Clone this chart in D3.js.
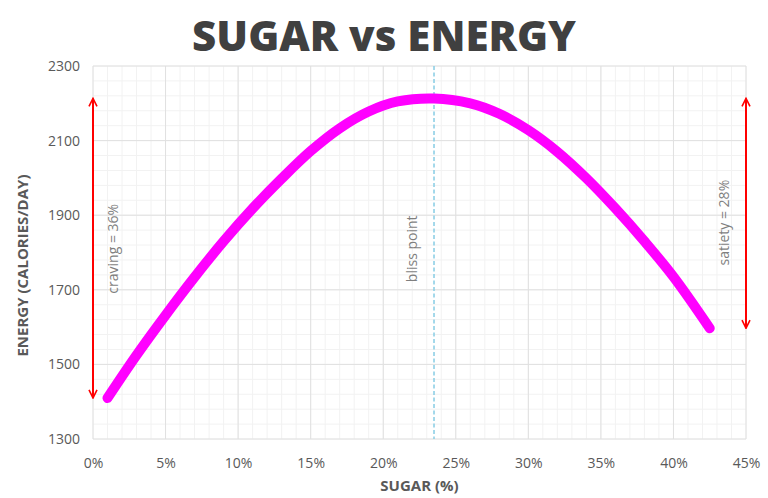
<!DOCTYPE html>
<html>
<head>
<meta charset="utf-8">
<script src="https://cdn.jsdelivr.net/npm/d3@7"></script>
<style>
  body { margin: 0; background: #fff; }
  text { font-family: "Open Sans", "DejaVu Sans", sans-serif; }
</style>
</head>
<body>
<div id="chart"></div>
<script>
// data
var sugar  = [1, 3, 5, 7, 9, 11, 13, 15, 17, 19, 21, 23.5, 26, 28, 30, 32, 34, 36, 38, 40, 42.5];
var energy = [1410, 1525, 1632, 1734, 1830, 1918, 1998, 2072, 2133, 2178, 2205, 2213, 2200, 2172, 2128, 2070, 1999, 1918, 1830, 1735, 1597];
var xTicks = [0, 5, 10, 15, 20, 25, 30, 35, 40, 45];
var yTicks = [1300, 1500, 1700, 1900, 2100, 2300];
var blissPoint = 23.5;
var craving = { label: "craving = 36%", x: 0, from: 2213, to: 1410, labelX: 1.35, labelY: 1810 };
var satiety = { label: "satiety = 28%", x: 45, from: 2213, to: 1597, labelX: 43.5, labelY: 1880 };

var width = 768, height = 498;
var margin = { top: 66, right: 22, bottom: 59, left: 93 };

var svg = d3.select("#chart").append("svg")
  .attr("width", width)
  .attr("height", height);

var x = d3.scaleLinear().domain([0, 45]).range([margin.left, width - margin.right]);
var y = d3.scaleLinear().domain([1300, 2300]).range([height - margin.bottom, margin.top]);

var defs = svg.append("defs");
defs.append("marker")
  .attr("id", "head")
  .attr("viewBox", "0 0 10 10")
  .attr("refX", 9).attr("refY", 5)
  .attr("markerWidth", 5).attr("markerHeight", 5)
  .attr("orient", "auto-start-reverse")
  .append("path")
  .attr("d", "M1,1 L9,5 L1,9")
  .attr("fill", "none")
  .attr("stroke", "#ff0000")
  .attr("stroke-width", 1.6);

// minor grid
var g = svg.append("g");
g.selectAll(".xminor").data(d3.range(0, 46, 1))
  .enter().append("line")
  .attr("x1", d => x(d)).attr("x2", d => x(d))
  .attr("y1", y(1300)).attr("y2", y(2300))
  .attr("stroke", "#f2f2f2").attr("stroke-width", 1);
g.selectAll(".yminor").data(d3.range(1300, 2301, 40))
  .enter().append("line")
  .attr("x1", x(0)).attr("x2", x(45))
  .attr("y1", d => y(d)).attr("y2", d => y(d))
  .attr("stroke", "#f2f2f2").attr("stroke-width", 1);
// major grid
g.selectAll(".xmajor").data(xTicks)
  .enter().append("line")
  .attr("x1", d => x(d)).attr("x2", d => x(d))
  .attr("y1", y(1300)).attr("y2", y(2300))
  .attr("stroke", "#e0e0e0").attr("stroke-width", 1);
g.selectAll(".ymajor").data(yTicks)
  .enter().append("line")
  .attr("x1", x(0)).attr("x2", x(45))
  .attr("y1", d => y(d)).attr("y2", d => y(d))
  .attr("stroke", "#e0e0e0").attr("stroke-width", 1);

// axes (labels only)
var xAxis = svg.append("g")
  .attr("transform", "translate(0," + y(1300) + ")")
  .call(d3.axisBottom(x).tickValues(xTicks).tickSize(0).tickPadding(19).tickFormat(d => d + "%"));
var yAxis = svg.append("g")
  .attr("transform", "translate(" + x(0) + ",0)")
  .call(d3.axisLeft(y).tickValues(yTicks).tickSize(0).tickPadding(13).tickFormat(d3.format("d")));
[xAxis, yAxis].forEach(function(a) {
  a.select(".domain").remove();
  a.selectAll("text")
    .attr("fill", "#595959")
    .style("font-size", "14px")
    .style("font-family", "'Open Sans', sans-serif");
});

// bliss point line
svg.append("line")
  .attr("x1", x(blissPoint)).attr("x2", x(blissPoint))
  .attr("y1", y(2300)).attr("y2", y(1300))
  .attr("stroke", "#8ecfe6")
  .attr("stroke-width", 1.6)
  .attr("stroke-dasharray", "4,2.5");

// curve
var pts = sugar.map((s, i) => [s, energy[i]]);
svg.append("path")
  .datum(pts)
  .attr("d", d3.line().x(d => x(d[0])).y(d => y(d[1])).curve(d3.curveCatmullRom))
  .attr("fill", "none")
  .attr("stroke", "#ff00ff")
  .attr("stroke-width", 10)
  .attr("stroke-linecap", "round")
  .attr("stroke-linejoin", "round");

// red arrows
[craving, satiety].forEach(function(a) {
  svg.append("line")
    .attr("x1", x(a.x)).attr("x2", x(a.x))
    .attr("y1", y(a.from)).attr("y2", y(a.to))
    .attr("stroke", "#ff0000")
    .attr("stroke-width", 2)
    .attr("marker-start", "url(#head)")
    .attr("marker-end", "url(#head)");
  svg.append("text")
    .attr("transform", "translate(" + (x(a.labelX) + 5) + "," + y(a.labelY) + ") rotate(-90)")
    .attr("text-anchor", "middle")
    .attr("fill", "#7f7f7f")
    .style("font-size", "14px")
    .text(a.label);
});

svg.append("text")
  .attr("transform", "translate(" + (x(blissPoint) - 17) + "," + y(1810) + ") rotate(-90)")
  .attr("text-anchor", "middle")
  .attr("fill", "#7f7f7f")
  .style("font-size", "14px")
  .text("bliss point");

// titles
svg.append("text")
  .attr("x", 384).attr("y", 51)
  .attr("text-anchor", "middle")
  .attr("fill", "#404040")
  .style("font-size", "42px")
  .style("font-weight", "800")
  .text("SUGAR vs ENERGY");

svg.append("text")
  .attr("x", x(22.5)).attr("y", 491)
  .attr("text-anchor", "middle")
  .attr("fill", "#595959")
  .style("font-size", "15px")
  .style("font-weight", "bold")
  .text("SUGAR (%)");

svg.append("text")
  .attr("transform", "translate(28," + y(1765) + ") rotate(-90)")
  .attr("text-anchor", "middle")
  .attr("fill", "#595959")
  .style("font-size", "15px")
  .style("font-weight", "bold")
  .text("ENERGY (CALORIES/DAY)");
</script>
</body>
</html>
